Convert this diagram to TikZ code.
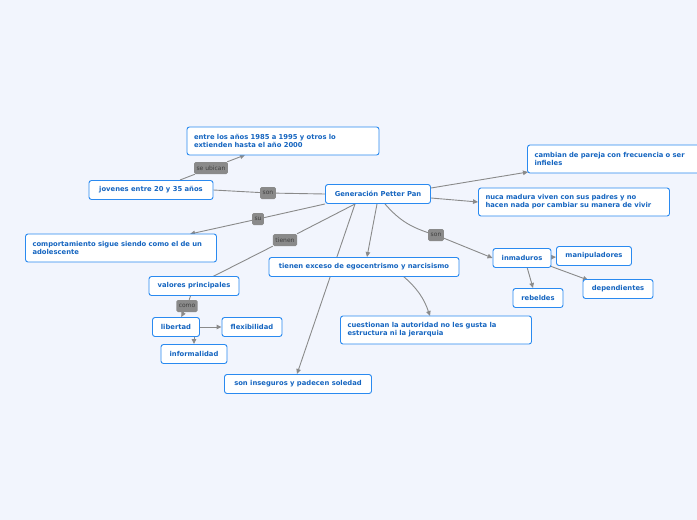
\documentclass[tikz,border=0pt]{standalone}
\usepackage{fontspec}
\setmainfont{DejaVu Sans}
\usetikzlibrary{arrows.meta}
\pgfdeclarelayer{bgl}
\pgfsetlayers{bgl,main}
\definecolor{bg}{HTML}{F2F5FD}
\definecolor{bd}{HTML}{2A8AF0}
\definecolor{tx}{HTML}{1565C0}
\definecolor{ln}{HTML}{8A8A8A}
\tikzset{
 box/.style={draw=bd,fill=white,rounded corners=2.5pt,line width=0.9pt,text=tx,font=\fontsize{6.8}{8}\selectfont\bfseries,align=left,inner xsep=6pt,inner ysep=0pt,minimum height=19pt},
 lab/.style={fill=ln,rounded corners=1.5pt,text=black!75,font=\fontsize{6}{7}\selectfont,inner sep=2.5pt,minimum height=12pt},
 con/.style={draw=ln,line width=0.9pt},
 arr/.style={con,-{Triangle[length=5pt,width=4.5pt]}}
}
\begin{document}
\begin{tikzpicture}[x=1pt,y=-1pt]
\begin{pgfonlayer}{bgl}
\fill[bg] (0,0) rectangle (697,520);
\end{pgfonlayer}
\useasboundingbox (0,0) rectangle (697,520);
% nodes
\node[box,minimum width=105pt] (gen) at (378,194) {Generación Petter Pan};
\node[box,minimum width=124pt] (jov) at (151,190) {jovenes entre 20 y 35 años};
\node[box,minimum width=192pt,minimum height=28pt,text width=178pt] (entre) at (283,141) {entre los años 1985 a 1995 y otros lo\\extienden hasta el año 2000};
\node[box,minimum width=191pt,minimum height=28pt,text width=177pt] (comp) at (121,248) {comportamiento sigue siendo como el de un\\adolescente};
\node[box,minimum width=90pt] (val) at (194,286) {valores principales};
\node[box,minimum width=47pt] (lib) at (176,327) {libertad};
\node[box,minimum width=60pt] (flex) at (252,327) {flexibilidad};
\node[box,minimum width=66pt] (inf) at (194,354) {informalidad};
\node[box,minimum width=147pt] (seg) at (298,384) {son inseguros y padecen soledad};
\node[box,minimum width=190pt] (ego) at (364,267) {tienen exceso de egocentrismo y narcisismo};
\node[box,minimum width=191pt,minimum height=28pt,text width=177pt] (cue) at (436,330) {cuestionan la autoridad no les gusta la\\estructura ni la jerarquia};
\node[box,minimum width=58pt] (inm) at (522,258) {inmaduros};
\node[box,minimum width=75pt] (man) at (594,256) {manipuladores};
\node[box,minimum width=50pt] (reb) at (538,298) {rebeldes};
\node[box,minimum width=70pt] (dep) at (618,289) {dependientes};
\node[box,minimum width=175pt,minimum height=28pt,text width=161pt] (cam) at (615,159) {cambian de pareja con frecuencia o ser\\infieles};
\node[box,minimum width=191pt,minimum height=28pt,text width=177pt] (nuc) at (574,202) {nuca madura viven con sus padres y no\\hacen nada por cambiar su manera de vivir};
% labels
\node[lab] (l1) at (211,168) {se ubican};
\node[lab] (l2) at (268,193) {son};
\node[lab] (l3) at (258,219) {su};
\node[lab] (l4) at (285,240) {tienen};
\node[lab] (l5) at (436,235) {son};
\node[lab] (l6) at (187,306) {como};
% connectors
\begin{pgfonlayer}{bgl}
\draw[con] (180,180) -- (l1);
\draw[arr] (l1) -- (245,155);
\draw[con] (gen.west) -- (l2) -- (jov.east);
\draw[con] (gen.south west) -- (l3);
\draw[arr] (l3) -- (190,234);
\draw[con] (355,204) -- (l4) -- (212,277);
\draw[arr] (355,204) -- (297,374);
\draw[arr] (377,204) -- (367,257);
\draw[con] (385,204) to[bend right=15] (l5);
\draw[arr] (l5) -- (inm.west);
\draw[arr] (431,188) -- (528,172);
\draw[arr] (431,198) -- (nuc.west);
\draw[arr] (403,276) to[bend left=15] (430,316);
\draw[con] (val) -- (l6);
\draw[arr] (l6) -- (lib);
\draw[arr] (lib) -- (flex);
\draw[arr] (194,336) -- (194,344);
\draw[arr] (inm) -- (man);
\draw[arr] (527,267) -- (533,288);
\draw[arr] (550,266) -- (588,280);
\end{pgfonlayer}
\end{tikzpicture}
\end{document}
